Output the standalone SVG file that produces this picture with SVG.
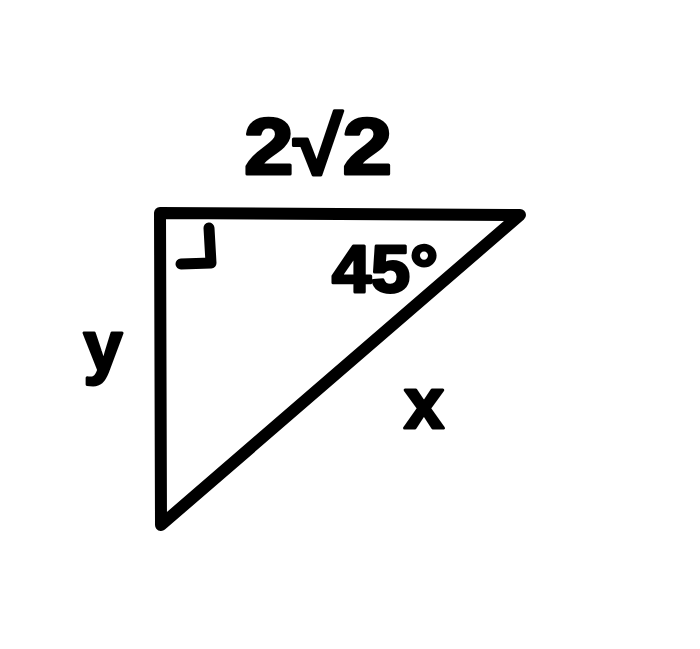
<svg xmlns="http://www.w3.org/2000/svg" width="700" height="649" viewBox="0 0 700 649">
<style>
.ln{fill:none;stroke:#000;stroke-width:12;stroke-linecap:round;stroke-linejoin:round}
.mk{fill:none;stroke:#000;stroke-width:11;stroke-linecap:round;stroke-linejoin:round}
.lb{font-family:"Liberation Sans",Arial,sans-serif;font-weight:bold;fill:#000;stroke:#000;stroke-width:3;stroke-linejoin:round}
</style>
<rect width="700" height="649" fill="#fff"/>
<g id="connectors">
<path class="ln" d="M160 213 L520 215 L161 525 Z"/>
</g>
<g id="right-angle">
<path class="mk" d="M209 228 L211 263 L181 264"/>
</g>
<g id="label-top">
<text class="lb" x="318" y="174" font-size="80" text-anchor="middle" textLength="148" lengthAdjust="spacingAndGlyphs">2√2</text>
</g>
<g id="label-angle">
<text class="lb" x="385" y="292" font-size="66" text-anchor="middle" textLength="106" lengthAdjust="spacingAndGlyphs">45°</text>
</g>
<g id="label-y">
<text class="lb" x="103" y="370" font-size="70" text-anchor="middle">y</text>
</g>
<g id="label-x">
<text class="lb" x="424" y="428" font-size="72" text-anchor="middle">x</text>
</g>
</svg>
